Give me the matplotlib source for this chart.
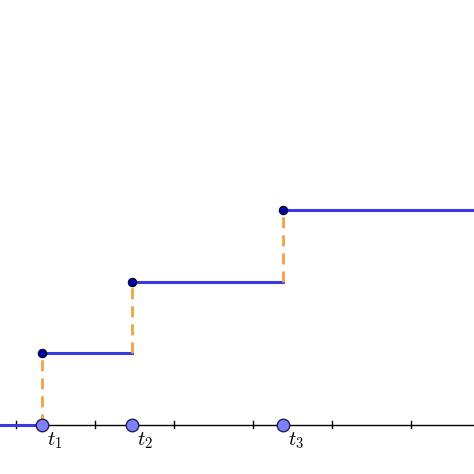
import matplotlib.pyplot as plt

plt.rcParams["mathtext.fontset"] = "cm"

# jump times and step levels
t = [0.33, 1.47, 3.38]
levels = [1, 2, 3]
labels = [r"$t_1$", r"$t_2$", r"$t_3$"]
ticks = [0, 1, 2, 3, 4, 5]

fig = plt.figure(figsize=(4.74, 4.74), dpi=100)
ax = fig.add_axes([0, 0, 1, 1])
xmin, xmax = -0.2, 5.8
ax.set_xlim(xmin, xmax)
ax.set_ylim(-0.69, 5.94)
ax.axis("off")

# axis line and ticks
ax.plot([xmin, xmax], [0, 0], color="black", lw=1, zorder=1)
for k in ticks:
    ax.plot([k, k], [-0.05, 0.05], color="black", lw=1, zorder=1)

# step function
edges = [xmin] + t + [xmax]
vals = [0] + levels
for i in range(len(vals)):
    ax.plot([edges[i], edges[i + 1]], [vals[i], vals[i]], color="#3a3ae0", lw=2.2, zorder=2)

for i, (ti, lv) in enumerate(zip(t, levels)):
    ax.plot([ti, ti], [vals[i], lv], color="#f5a040", lw=2, ls=(0, (4, 2.5)), zorder=2)
    ax.plot(ti, lv, "o", ms=6, mfc="#0000b0", mec="black", mew=0.8, zorder=4)
    ax.plot(ti, 0, "o", ms=9, mfc="#8080ff", mec="#202050", mew=1, zorder=4)
    ax.text(ti + 0.06, -0.08, labels[i], fontsize=15, ha="left", va="top")

fig.savefig("out.png", dpi=100)
